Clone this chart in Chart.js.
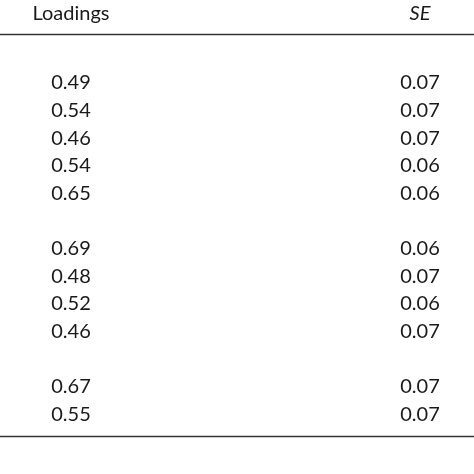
<!DOCTYPE html>
<html>
<head>
<meta charset="utf-8">
<script src="https://cdn.jsdelivr.net/npm/chart.js"></script>
<style>
  html, body { margin: 0; padding: 0; background: #fff; }
  #wrap { width: 474px; height: 474px; }
</style>
</head>
<body>
<div id="wrap"><canvas id="tableChart" width="474" height="474"></canvas></div>
<script>
// table values, row slots (empty slots separate the groups)
const headers = ["Loadings", "SE"];
const loadings = [0.49, 0.54, 0.46, 0.54, 0.65, 0.69, 0.48, 0.52, 0.46, 0.67, 0.55];
const seValues = [0.07, 0.07, 0.07, 0.06, 0.06, 0.06, 0.07, 0.06, 0.07, 0.07, 0.07];
const rowSlots = [0, 1, 2, 3, 4, 6, 7, 8, 9, 11, 12];

const COL_X = [71, 420];
const HEADER_SLOT = -2.5;
const RULE_SLOTS = [-1.775, 12.79];

const tablePlugin = {
  id: "tableDraw",
  afterDatasetsDraw: (chart) => {
    const { ctx, scales: { x, y } } = chart;
    ctx.save();
    ctx.fillStyle = "#1a1a1a";
    ctx.textAlign = "center";
    ctx.textBaseline = "middle";

    // header
    ctx.font = "20px Lato";
    ctx.fillText(headers[0], x.getPixelForValue(COL_X[0]), y.getPixelForValue(HEADER_SLOT));
    ctx.font = "italic 20px Lato";
    ctx.fillText(headers[1], x.getPixelForValue(COL_X[1]), y.getPixelForValue(HEADER_SLOT));

    // rules
    ctx.strokeStyle = "#333";
    ctx.lineWidth = 1.5;
    RULE_SLOTS.forEach((s) => {
      const yPos = Math.round(y.getPixelForValue(s)) + 0.5;
      ctx.beginPath();
      ctx.moveTo(x.left, yPos);
      ctx.lineTo(x.right, yPos);
      ctx.stroke();
    });

    // body
    ctx.font = "20px Lato";
    const meta0 = chart.getDatasetMeta(0);
    const meta1 = chart.getDatasetMeta(1);
    meta0.data.forEach((pt, i) => {
      ctx.fillText(loadings[i].toFixed(2), pt.x, pt.y);
    });
    meta1.data.forEach((pt, i) => {
      ctx.fillText(seValues[i].toFixed(2), pt.x, pt.y);
    });
    ctx.restore();
  },
};

new Chart(document.getElementById("tableChart").getContext("2d"), {
  type: "scatter",
  data: {
    datasets: [
      { data: rowSlots.map((s) => ({ x: COL_X[0], y: s })), pointRadius: 0 },
      { data: rowSlots.map((s) => ({ x: COL_X[1], y: s })), pointRadius: 0 },
    ],
  },
  plugins: [tablePlugin],
  options: {
    responsive: false,
    animation: false,
    events: [],
    layout: { padding: 0 },
    plugins: { legend: { display: false }, tooltip: { enabled: false } },
    scales: {
      x: { type: "linear", min: 0, max: 474, display: false },
      y: { type: "linear", min: -3.007, max: 14.167, reverse: true, display: false },
    },
  },
});
</script>
</body>
</html>
